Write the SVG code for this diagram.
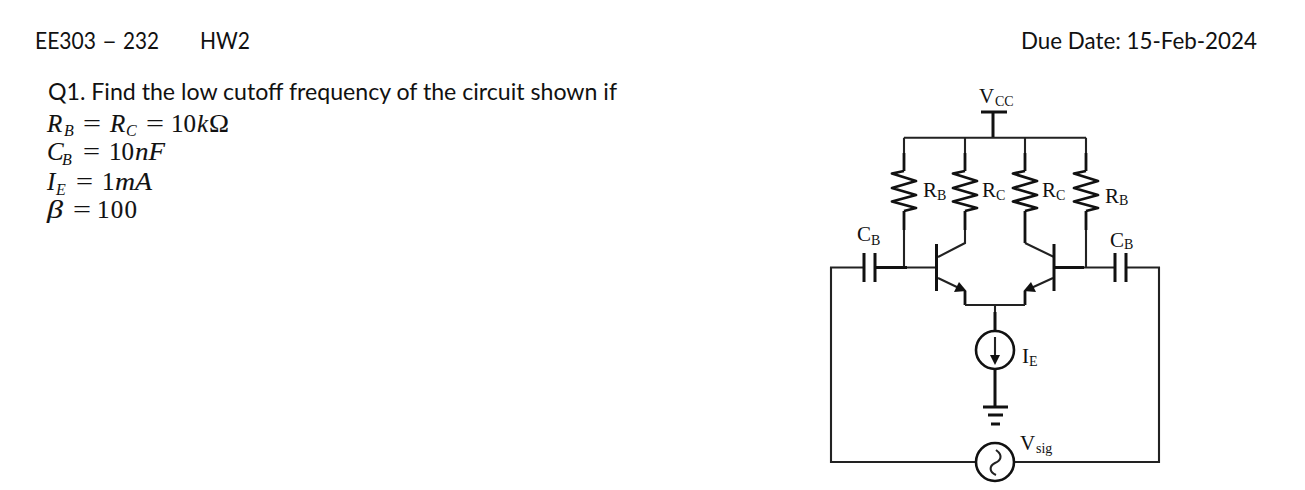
<svg xmlns="http://www.w3.org/2000/svg" width="1305" height="490" viewBox="0 0 1305 490">
<defs><style>
.t{font-family:"Lato","Open Sans",sans-serif;font-size:23px;fill:#111}
.m{font-family:"Liberation Serif",serif;font-size:25px;fill:#111;stroke:#111;stroke-width:.12}
.i{font-style:italic}
.ms{font-family:"Liberation Serif",serif;font-size:16px;font-style:italic;fill:#111}
.l{font-family:"Liberation Serif",serif;font-size:21px;fill:#111}
.s{font-family:"Liberation Serif",serif;font-size:14px;fill:#111}
.w{fill:none;stroke:#222;stroke-width:2.100}
.k{fill:none;stroke:#111;stroke-width:2.800;stroke-linejoin:round}
.h{fill:none;stroke:#111;stroke-width:3}
.c{fill:#fff;stroke:#111;stroke-width:2.600}
.a{fill:#111;stroke:none}
</style>
<g id="zig"><path class="k" d="M0 -20L-12 -17.500L12 -10L-12 -3L12 4L-12 10.500L12 17L0 20"/></g>
</defs>
<rect width="1305" height="490" fill="#fff"/>
<g id="text">
<text class="t" x="35" y="49" textLength="61" lengthAdjust="spacingAndGlyphs">EE303</text>
<text class="t" x="102" y="49" textLength="15" lengthAdjust="spacingAndGlyphs">–</text>
<text class="t" x="123" y="49" textLength="36" lengthAdjust="spacingAndGlyphs">232</text>
<text class="t" x="200" y="49" textLength="50" lengthAdjust="spacingAndGlyphs">HW2</text>
<text class="t" x="1021" y="49" textLength="236" lengthAdjust="spacingAndGlyphs">Due Date: 15-Feb-2024</text>
<text class="t" x="48" y="100" textLength="569" lengthAdjust="spacingAndGlyphs">Q1. Find the low cutoff frequency of the circuit shown if</text>
<text class="m i" x="47" y="131.500">R</text><text class="ms" x="64" y="136">B</text>
<text class="m" x="83" y="131.500" textLength="18" lengthAdjust="spacingAndGlyphs">=</text>
<text class="m i" x="110" y="131.500">R</text><text class="ms" x="126" y="136">C</text>
<text class="m" x="146" y="131.500" textLength="18" lengthAdjust="spacingAndGlyphs">=</text>
<text class="m" x="171" y="131.500" textLength="25">10</text><text class="m i" x="197" y="131.500">k</text><text class="m" x="209" y="131.500" textLength="20" lengthAdjust="spacingAndGlyphs">Ω</text>
<text class="m i" x="47" y="160">C</text><text class="ms" x="62" y="165">B</text>
<text class="m" x="83" y="160" textLength="17" lengthAdjust="spacingAndGlyphs">=</text>
<text class="m" x="109" y="160" textLength="25">10</text><text class="m i" x="135" y="160" textLength="30" lengthAdjust="spacingAndGlyphs">nF</text>
<text class="m i" x="47" y="190">I</text><text class="ms" x="56" y="195">E</text>
<text class="m" x="76" y="190" textLength="17" lengthAdjust="spacingAndGlyphs">=</text>
<text class="m" x="102" y="190" textLength="11">1</text><text class="m i" x="115" y="190" textLength="37" lengthAdjust="spacingAndGlyphs">mA</text>
<text class="m i" x="47" y="218" textLength="16" lengthAdjust="spacingAndGlyphs">β</text>
<text class="m" x="73" y="218" textLength="18" lengthAdjust="spacingAndGlyphs">=</text>
<text class="m" x="97" y="218" textLength="40">100</text>
</g>
<g id="connectors">
<path class="w" d="M904 137.700H1086M904 137.700V153M965 137.700V153M1025 137.700V153M1086 137.700V153"/>
<path class="k" d="M904 153V171M965 153V171M1025 153V171M1086 153V171"/>
<path class="h" d="M993 112V137"/>
<path class="k" d="M904 211V230M965 211V230M1025 211V243M1086 211V230"/>
<path class="w" d="M904 230V267.500M965 230V243L938 257M1025 243L1054 257M1086 230V267.500"/>
<path class="k" d="M875 267.500H907M1055 267.500H1084"/>
<path class="w" d="M907 267.500H937M1084 267.500H1115M864 267.500H831V462H976M1126 267.500H1159V462H1014"/>
<path class="w" d="M938 278L961 289M1053 278L1029 289"/>
<path class="k" d="M965 291V305M1025 291V305"/>
<path class="w" d="M965 305H1025"/>
<path class="w" d="M995 305V312"/>
<path class="h" d="M995 312V331M995 369V407"/>
</g>
<g id="vcc"><path class="h" d="M981 112H1007"/><text class="l" x="979" y="103">V</text><text class="s" x="995" y="106">CC</text></g>
<g id="rb1"><use href="#zig" x="904" y="191"/><text class="l" x="923" y="197">R</text><text class="s" x="937" y="200">B</text></g>
<g id="rc1"><use href="#zig" x="965" y="191"/><text class="l" x="982" y="197">R</text><text class="s" x="996" y="200">C</text></g>
<g id="rc2"><use href="#zig" x="1025" y="191"/><text class="l" x="1042" y="197">R</text><text class="s" x="1056" y="200">C</text></g>
<g id="rb2"><use href="#zig" x="1086" y="191"/><text class="l" x="1105" y="203">R</text><text class="s" x="1119" y="205">B</text></g>
<g id="cb1"><path class="h" d="M864 253V282M875 253V282"/><text class="l" x="857" y="241">C</text><text class="s" x="871" y="245">B</text></g>
<g id="cb2"><path class="h" d="M1115 253V282M1126 253V282"/><text class="l" x="1110" y="247">C</text><text class="s" x="1124" y="249">B</text></g>
<g id="q1"><path class="h" d="M936.500 244V291"/><path class="a" d="M966.500 291L954 292L959 282Z"/></g>
<g id="q2"><path class="h" d="M1054 244V291"/><path class="a" d="M1023.500 291L1036 292L1031 282Z"/></g>
<g id="ie"><circle class="c" cx="995" cy="350" r="19"/><path class="w" d="M995 337V356"/><path class="a" d="M990 355H1000L995 365Z"/><text class="l" x="1022" y="363">I</text><text class="s" x="1029" y="366">E</text></g>
<g id="gnd"><path class="h" d="M983 407H1008M988 415H1003M991 424H1000"/></g>
<g id="vsig"><circle class="c" cx="995" cy="462" r="19"/><path class="w" d="M996 450C1004 456 1000 461 995 463C989 466 989 472 996 475"/><text class="l" x="1020" y="450">V</text><text class="s" x="1036" y="453">sig</text></g>
</svg>
